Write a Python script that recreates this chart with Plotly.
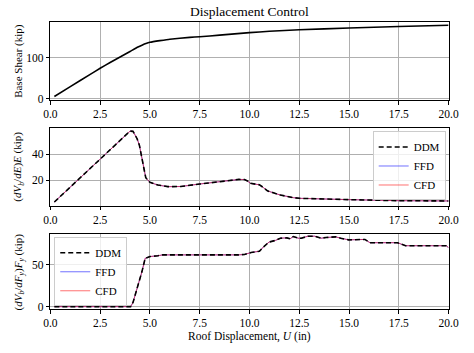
import plotly.graph_objects as go

# ---- data ----
disp_shear = [0.2, 1.0, 2.0, 2.5, 3.0, 3.5, 4.0, 4.4, 4.6, 4.8, 5.0, 5.5, 6.0, 7.0, 7.5,
              8.5, 10.0, 11.0, 12.5, 15.0, 17.5, 20.0]
base_shear = [5, 29, 59, 74, 88, 101.5, 115, 126, 130.5, 134.5, 137.5, 141.5, 145, 149.5, 151,
              155, 161, 164.5, 168, 172.5, 176, 179]

disp_E = [0.2, 1.0, 2.0, 3.0, 4.0, 4.15, 4.35, 4.47, 4.56, 4.68, 4.79, 5.0, 5.4, 5.9, 6.55,
          7.5, 8.5, 9.0, 9.47, 9.75, 9.9, 10.05, 10.5, 10.7, 10.9, 11.2, 11.55, 12.2, 12.5,
          15.0, 17.5, 20.0]
sens_E = [3.5, 14.9, 29.1, 43.3, 57.5, 57.3, 51.9, 46.8, 39.2, 29, 22, 18.5, 16.4, 15.2, 15.3,
          17.2, 19.0, 20.0, 20.7, 20.6, 19.5, 17.7, 16.6, 14.5, 12.0, 10.5, 8.8, 6.8, 6.3,
          5.3, 4.5, 4.3]

disp_Fy = [0.2, 4.03, 4.15, 4.27, 4.44, 4.6, 4.76, 5.0, 5.4, 5.65, 9.44, 9.75, 10.08, 10.5,
           10.7, 10.98, 11.3, 11.55, 11.88, 12.04, 12.2, 12.45, 12.6, 12.94, 13.27, 13.6,
           13.84, 14.33, 14.58, 14.98, 15.8, 16.05, 17.43, 17.84, 19.9, 20.0]
sens_Fy = [0, 0, 5, 15, 26.6, 42, 57.8, 60, 61, 62, 62, 62.5, 64.8, 66.4,
           71.5, 77.3, 79.3, 82, 82.4, 81.3, 84, 82, 82, 84.4, 84.4, 82,
           82.8, 83.6, 82, 80, 80.5, 76.6, 76.6, 73, 73, 70.3]

x_ticks = [0, 2.5, 5, 7.5, 10, 12.5, 15, 17.5, 20]
x_tick_text = ["0.0", "2.5", "5.0", "7.5", "10.0", "12.5", "15.0", "17.5", "20.0"]
y1_ticks = [0, 100]
y2_ticks = [20, 40]
y3_ticks = [0, 50]

FONT = "Liberation Serif"
W, H = 474, 353

fig = go.Figure()

# panel 1
fig.add_trace(go.Scatter(x=disp_shear, y=base_shear, mode="lines",
                         line=dict(color="black", width=1.6, shape="spline", smoothing=0.4),
                         showlegend=False, xaxis="x", yaxis="y"))

# panels 2 & 3
for (xs, ys, xa, ya, lg) in [(disp_E, sens_E, "x2", "y2", "legend"),
                             (disp_Fy, sens_Fy, "x3", "y3", "legend2")]:
    fig.add_trace(go.Scatter(x=xs, y=ys, mode="lines", name="FFD", legendrank=2,
                             line=dict(color="blue", width=0.8), opacity=0.7,
                             xaxis=xa, yaxis=ya, legend=lg))
    fig.add_trace(go.Scatter(x=xs, y=ys, mode="lines", name="CFD", legendrank=3,
                             line=dict(color="red", width=0.8), opacity=0.7,
                             xaxis=xa, yaxis=ya, legend=lg))
    fig.add_trace(go.Scatter(x=xs, y=ys, mode="lines", name="DDM", legendrank=1,
                             line=dict(color="black", width=1.6, dash="5px,3px"),
                             xaxis=xa, yaxis=ya, legend=lg))

xd = [45 / W, 458 / W]
doms = [[1 - 101.3 / H, 1 - 22.7 / H], [1 - 208.3 / H, 1 - 129.3 / H], [1 - 312.7 / H, 1 - 236.7 / H]]

common_x = dict(range=[0, 20], domain=xd, tickvals=x_ticks, ticktext=x_tick_text,
                showgrid=True, gridcolor="#b0b0b0", gridwidth=0.8, zeroline=False,
                showline=True, linecolor="black", linewidth=1, mirror=True,
                ticks="outside", ticklen=3.5, tickcolor="black",
                tickfont=dict(family=FONT, size=11.5, color="black"))
common_y = dict(showgrid=True, gridcolor="#b0b0b0", gridwidth=0.8, zeroline=False,
                showline=True, linecolor="black", linewidth=1, mirror=True,
                ticks="outside", ticklen=3.5, tickcolor="black",
                tickfont=dict(family=FONT, size=11.5, color="black"))

leg_common = dict(bgcolor="rgba(255,255,255,0.8)", bordercolor="#cccccc", borderwidth=1,
                  font=dict(family=FONT, size=11, color="black"), tracegroupgap=0,
                  itemwidth=30)

fig.update_layout(
    width=W, height=H, margin=dict(l=0, r=0, t=0, b=0),
    paper_bgcolor="white", plot_bgcolor="white",
    font=dict(family=FONT, color="black"),
    xaxis=dict(common_x, anchor="y"),
    xaxis2=dict(common_x, anchor="y2"),
    xaxis3=dict(common_x, anchor="y3"),
    yaxis=dict(common_y, domain=doms[0], range=[-4, 186], tickvals=y1_ticks, anchor="x"),
    yaxis2=dict(common_y, domain=doms[1], range=[0.5, 60], tickvals=y2_ticks, anchor="x2"),
    yaxis3=dict(common_y, domain=doms[2], range=[-3, 87], tickvals=y3_ticks, anchor="x3"),
    legend=dict(leg_common, x=455 / W, y=1 - 133 / H, xanchor="right", yanchor="top"),
    legend2=dict(leg_common, x=49 / W, y=1 - 240 / H, xanchor="left", yanchor="top"),
    showlegend=True,
)

ann = [
    dict(text="Displacement Control", x=251.5 / W, y=1 - 12 / H, font=dict(size=13.5)),
    dict(text="Roof Displacement, <i>U</i> (in)", x=251.5 / W, y=1 - 340 / H, font=dict(size=11.5)),
    dict(text="Base Shear (kip)", x=12 / W, y=1 - 62 / H, textangle=-90, font=dict(size=11)),
    dict(text="(<i>dV</i><sub><i>b</i></sub>/<i>dE</i>)<i>E</i> (kip)", x=12 / W, y=1 - 169 / H,
         textangle=-90, font=dict(size=11)),
    dict(text="(<i>dV</i><sub><i>b</i></sub>/<i>dF</i><sub><i>y</i></sub>)<i>F</i><sub><i>y</i></sub> (kip)",
         x=12 / W, y=1 - 275 / H, textangle=-90, font=dict(size=11)),
]
for a in ann:
    a.update(xref="paper", yref="paper", showarrow=False, xanchor="center", yanchor="middle")
    a["font"] = dict(family=FONT, color="black", size=a["font"]["size"])
fig.update_layout(annotations=ann)

fig.write_html("out.html")
